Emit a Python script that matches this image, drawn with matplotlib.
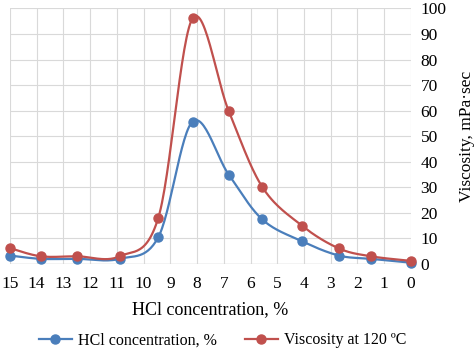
import numpy as np
import matplotlib
matplotlib.use("Agg")
import matplotlib.pyplot as plt
from matplotlib.lines import Line2D

plt.rcParams['font.family'] = ['Liberation Serif', 'DejaVu Serif']

hcl = [15, 13.85, 12.5, 10.9, 9.45, 8.17, 6.82, 5.56, 4.08, 2.7, 1.5, 0]
blue_vals = [3.3, 2.0, 2.0, 2.0, 10.5, 55.7, 35.0, 17.4, 8.9, 3.3, 2.0, 0.5]
red_vals = [6.2, 3.0, 3.0, 3.0, 18.1, 96.1, 59.9, 30.1, 15.0, 6.1, 3.0, 1.2]
x_ticks = list(range(15, -1, -1))
y_ticks = list(range(0, 101, 10))
series_names = ["HCl concentration, %", "Viscosity at 120 \u00baC"]
colors = ["#4a7ebb", "#c0504d"]

fig = plt.figure(figsize=(4.74, 3.51), dpi=100)
ax = fig.add_axes([0.021, 0.248, 0.846, 0.728])
ax.set_xlim(15, 0)
ax.set_ylim(0, 100)

def smooth(xs, ys, sx, sy, n=30):
    # Catmull-Rom style bezier (Excel-like smoothing) in screen-scaled space
    P = np.column_stack([np.array(xs) * sx, np.array(ys) * sy])
    out = []
    t = 1 / 6
    for i in range(len(P) - 1):
        p0 = P[i - 1] if i > 0 else P[i]
        p1 = P[i]
        p2 = P[i + 1]
        p3 = P[i + 2] if i + 2 < len(P) else P[i + 1]
        c1 = p1 + (p2 - p0) * t
        c2 = p2 - (p3 - p1) * t
        s = np.linspace(0, 1, n)[:, None]
        seg = ((1 - s) ** 3) * p1 + 3 * ((1 - s) ** 2) * s * c1 + 3 * (1 - s) * s ** 2 * c2 + s ** 3 * p2
        out.append(seg if i == 0 else seg[1:])
    B = np.vstack(out)
    return B[:, 0] / sx, B[:, 1] / sy

sx, sy = 26.73, 2.56
for vals, c in zip([blue_vals, red_vals], colors):
    xs, ys = smooth(hcl, vals, sx, sy)
    ax.plot(xs, ys, color=c, lw=1.6, zorder=3, clip_on=False)
    ax.plot(hcl, vals, 'o', color=c, ms=6.5, zorder=4, clip_on=False)

ax.set_xticks(x_ticks)
ax.set_yticks(y_ticks)
ax.grid(True, color="#d9d9d9", lw=0.8)
ax.set_axisbelow(True)
for s in ax.spines.values():
    s.set_visible(False)
ax.axhline(0, color="#d0d0d0", lw=1, zorder=1)
ax.yaxis.tick_right()
ax.yaxis.set_label_position("right")
ax.tick_params(axis='both', length=0, labelsize=12.5)
ax.tick_params(axis='x', pad=9)
ax.tick_params(axis='y', pad=7)
ax.set_xlabel("HCl concentration, %", fontsize=13, labelpad=6)
ax.set_ylabel("Viscosity, mPa\u00b7sec", fontsize=12.5, labelpad=9)

handles = [Line2D([0], [0], color=c, lw=1.6, marker='o', ms=6.5) for c in colors]
fig.legend(handles, series_names, loc='center', bbox_to_anchor=(0.469, 0.03),
           ncol=2, frameon=False, fontsize=11.5, handlelength=2.1,
           columnspacing=1.75, handletextpad=0.35)

fig.savefig("out.png", dpi=100)
